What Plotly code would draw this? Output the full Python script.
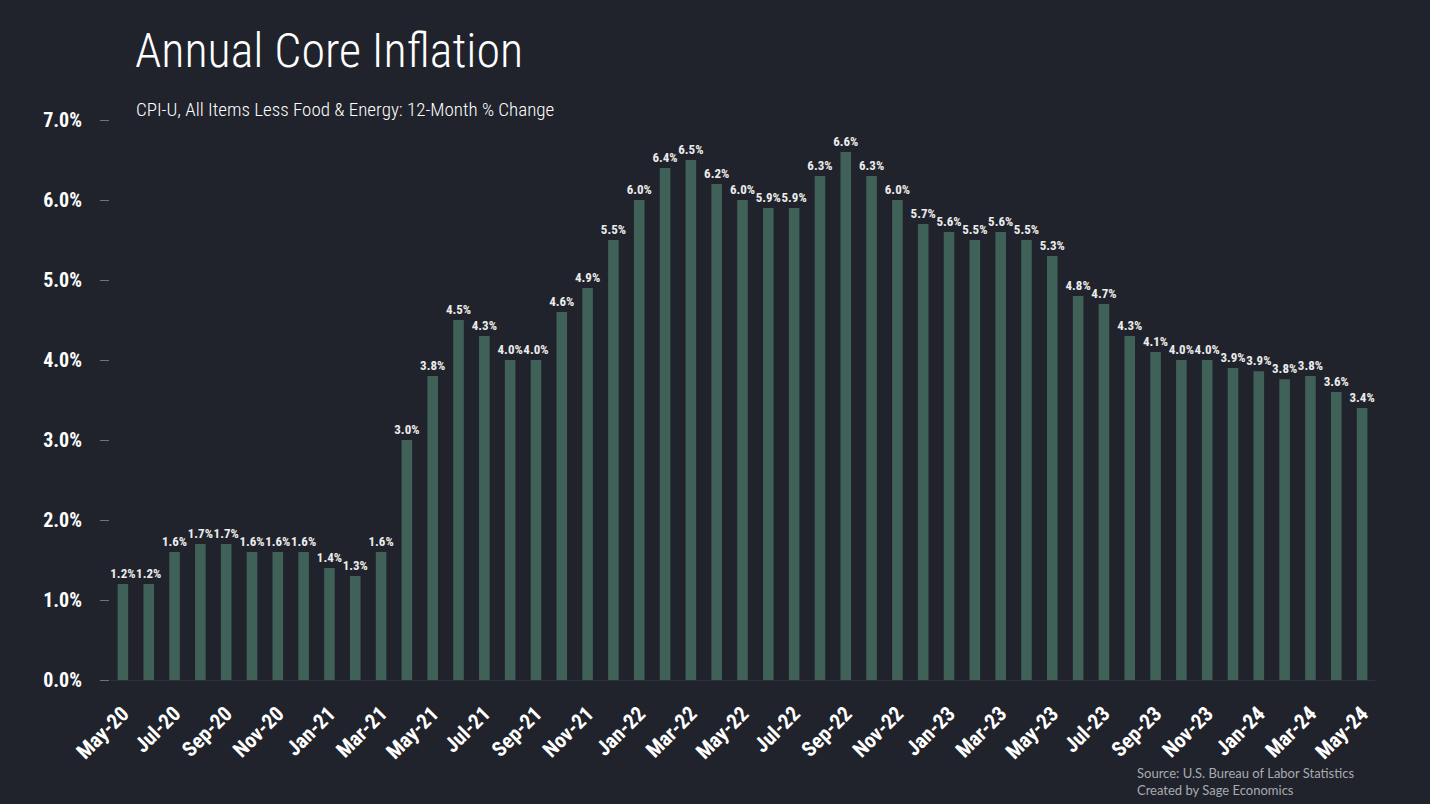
import plotly.graph_objects as go

months = ["May-20", "Jun-20", "Jul-20", "Aug-20", "Sep-20", "Oct-20", "Nov-20", "Dec-20",
          "Jan-21", "Feb-21", "Mar-21", "Apr-21", "May-21", "Jun-21", "Jul-21", "Aug-21",
          "Sep-21", "Oct-21", "Nov-21", "Dec-21", "Jan-22", "Feb-22", "Mar-22", "Apr-22",
          "May-22", "Jun-22", "Jul-22", "Aug-22", "Sep-22", "Oct-22", "Nov-22", "Dec-22",
          "Jan-23", "Feb-23", "Mar-23", "Apr-23", "May-23", "Jun-23", "Jul-23", "Aug-23",
          "Sep-23", "Oct-23", "Nov-23", "Dec-23", "Jan-24", "Feb-24", "Mar-24", "Apr-24",
          "May-24"]
core_cpi = [1.2, 1.2, 1.6, 1.7, 1.7, 1.6, 1.6, 1.6,
            1.4, 1.3, 1.6, 3.0, 3.8, 4.5, 4.3, 4.0,
            4.0, 4.6, 4.9, 5.5, 6.0, 6.4, 6.5, 6.2,
            6.0, 5.9, 5.9, 6.3, 6.6, 6.3, 6.0, 5.7,
            5.6, 5.5, 5.6, 5.5, 5.3, 4.8, 4.7, 4.3,
            4.1, 4.0, 4.0, 3.9, 3.86, 3.76, 3.8, 3.6,
            3.4]
x_ticks = months[::2]
y_ticks = [0, 1, 2, 3, 4, 5, 6, 7]
y_tick_text = [f"{v:.1f}%" for v in y_ticks]

title = "Annual Core Inflation"
subtitle = "CPI-U, All Items Less Food &amp; Energy: 12-Month % Change"
source = "Source: U.S. Bureau of Labor Statistics<br>Created by Sage Economics"

BG = "#20232b"
BAR = "#3f6158"
NARROW = "Roboto Condensed, Open Sans Condensed, sans-serif"

fig = go.Figure(go.Bar(
    x=months, y=core_cpi,
    marker=dict(color=BAR, line=dict(width=0)),
    text=[f"{v:.1f}%" for v in core_cpi],
    textposition="outside",
    textfont=dict(family=NARROW, size=13, color="#ececec", weight="bold"),
    constraintext="none",
    cliponaxis=False,
    hovertemplate="%{x}: %{y:.1f}%<extra></extra>",
))

fig.update_layout(
    width=1430, height=804,
    paper_bgcolor=BG, plot_bgcolor=BG,
    margin=dict(l=110, r=55, t=120, b=124),
    bargap=0.59,
    showlegend=False,
    xaxis=dict(
        type="category",
        tickmode="array", tickvals=x_ticks, ticktext=x_ticks,
        tickangle=-45,
        tickfont=dict(family=NARROW, size=21, color="#ffffff", weight="bold"),
        ticklabelstandoff=12,
        showgrid=False, zeroline=False,
        showline=True, linecolor="#2c3038", linewidth=1,
        ticks="",
    ),
    yaxis=dict(
        range=[0, 7.0],
        tickmode="array", tickvals=y_ticks, ticktext=y_tick_text,
        tickfont=dict(family=NARROW, size=20, color="#ffffff", weight="bold"),
        showgrid=False, zeroline=False, showline=False,
        ticks="outside", ticklen=9, tickcolor="#6f737a", tickwidth=1,
        ticklabelstandoff=14,
    ),
    annotations=[
        dict(text=title, xref="paper", yref="paper", x=(133 - 110) / 1265, y=1.124,
             xanchor="left", yanchor="middle", showarrow=False,
             font=dict(family=NARROW, size=48, color="#ffffff", weight=300)),
        dict(text=subtitle, xref="paper", yref="paper", x=(134 - 110) / 1265, y=1.019,
             xanchor="left", yanchor="middle", showarrow=False,
             font=dict(family=NARROW, size=19, color="#ffffff", weight=300)),
        dict(text=source, xref="paper", yref="paper", x=(1135 - 110) / 1265, y=-0.148,
             xanchor="left", yanchor="top", align="left", showarrow=False,
             font=dict(family="Lato, Open Sans, sans-serif", size=13, color="#a9abb0")),
    ],
)

fig.write_html("out.html", config={"displayModeBar": False},
               post_script="document.body.style.margin='0';")
